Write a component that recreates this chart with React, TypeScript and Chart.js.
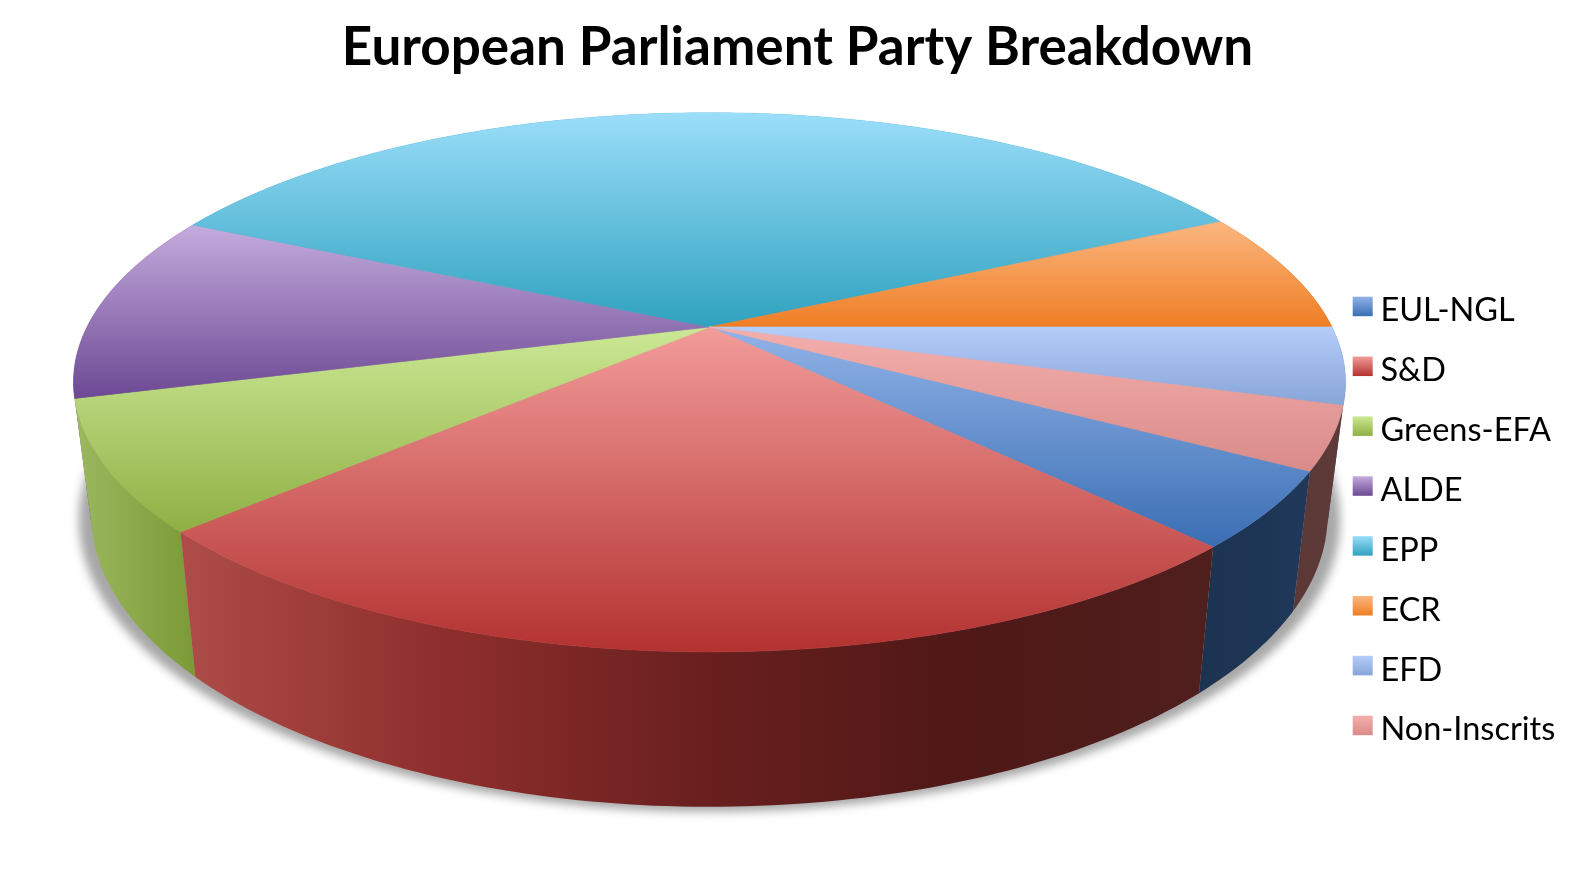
import React, { useEffect, useRef } from "react";
import { Chart, registerables } from "chart.js";

Chart.register(...registerables);

const categories = ["EUL-NGL", "S&D", "Greens-EFA", "ALDE", "EPP", "ECR", "EFD", "Non-Inscrits"];
const seats = [33.5, 185, 57, 83, 262, 54, 34, 27.5];
const topLight = ["#92b3e8", "#f29c9a", "#cce895", "#c4abdd", "#9bdefa", "#fbb67f", "#b4cdf9", "#f3afac"];
const topDark = ["#3a6eb3", "#b33230", "#8fb044", "#6c4993", "#2fa2bf", "#ef7e25", "#88a5d8", "#d98b89"];
const wallStops: string[][] = [
  ["#1c3350", "#20385a"],
  ["#ad4c48", "#8f2f2d", "#6a201f", "#4f1816", "#4f1f1e"],
  ["#9cb860", "#7b9a36"],
  ["#6a4f86", "#5e4578"],
  ["#2a7d92", "#2a7d92"],
  ["#b9631f", "#b9631f"],
  ["#4f6b93", "#4f6b93"],
  ["#5b3836", "#5e3b38"],
];

// perspective of the pie's disc
const CX = 709.5, CY = 327, A = 622.5, B = 258.3, K = 0.205;
const project = (t: number, r = 1) => {
  const u = r * Math.cos(t), v = r * Math.sin(t), w = 1 - K * v;
  return { x: CX + (A * u) / w, y: CY + (B * v) / w };
};
const lower = (p: { x: number; y: number }) => ({
  x: CX + 0.972 * (p.x - CX),
  y: 1.083 * p.y + 100.8,
});
const sweep = (a: number, b: number) => {
  const n = Math.max(2, Math.ceil(((b - a) * 180) / Math.PI));
  const out: number[] = [];
  for (let i = 0; i <= n; i++) out.push(a + ((b - a) * i) / n);
  return out;
};

const perspectivePie = {
  id: "perspectivePie",
  beforeDatasetDraw(chart: any, args: any) {
    const ctx: CanvasRenderingContext2D = chart.ctx;
    const arcs = args.meta.data.map((el: any, i: number) => {
      const { startAngle, endAngle } = el.getProps(["startAngle", "endAngle"], true);
      return { i, a: startAngle, b: endAngle };
    });

    // soft shadow under the disc
    ctx.save();
    ctx.filter = "blur(5px)";
    ctx.fillStyle = "rgba(120,120,120,0.65)";
    ctx.beginPath();
    sweep(0, Math.PI * 2).forEach((t, j) => {
      const p = lower(project(t));
      const x = CX + 1.02 * (p.x - CX), y = p.y + 5;
      j ? ctx.lineTo(x, y) : ctx.moveTo(x, y);
    });
    ctx.closePath();
    ctx.fill();
    ctx.restore();

    // side walls, back to front
    const order = [...arcs].sort(
      (p: any, q: any) => Math.sin((p.a + p.b) / 2) - Math.sin((q.a + q.b) / 2)
    );
    order.forEach(({ i, a, b }: any) => {
      const ts = sweep(a, b);
      const top = ts.map((t) => project(t));
      const bot = ts.map((t) => lower(project(t))).reverse();
      const pts = [...top, ...bot];
      const xs = pts.map((p) => p.x);
      const g = ctx.createLinearGradient(Math.min(...xs), 0, Math.max(...xs), 0);
      wallStops[i].forEach((c, j) => g.addColorStop(j / (wallStops[i].length - 1), c));
      ctx.beginPath();
      pts.forEach((p, j) => (j ? ctx.lineTo(p.x, p.y) : ctx.moveTo(p.x, p.y)));
      ctx.closePath();
      ctx.fillStyle = g;
      ctx.fill();
    });

    // top surface
    arcs.forEach(({ i, a, b }: any) => {
      const pts = [project(0, 0), ...sweep(a, b).map((t) => project(t))];
      const ys = pts.map((p) => p.y);
      const g = ctx.createLinearGradient(0, Math.min(...ys), 0, Math.max(...ys));
      g.addColorStop(0, topLight[i]);
      g.addColorStop(1, topDark[i]);
      ctx.beginPath();
      pts.forEach((p, j) => (j ? ctx.lineTo(p.x, p.y) : ctx.moveTo(p.x, p.y)));
      ctx.closePath();
      ctx.fillStyle = g;
      ctx.strokeStyle = g;
      ctx.lineWidth = 0.6;
      ctx.fill();
      ctx.stroke();
    });
    return false;
  },
  afterLayout(chart: any) {
    chart.titleBlock.left += 8.5;
    chart.titleBlock.right += 8.5;
    chart.legend.left = 1316.75;
    chart.legend.top = 267;
  },
  afterDraw(chart: any) {
    // gradient swatches beside the library's legend text
    const ctx: CanvasRenderingContext2D = chart.ctx;
    categories.forEach((_, i) => {
      const x = 1352.7, w = 20, h = 19.5;
      const y = 296.7 + i * 59.86;
      const g = ctx.createLinearGradient(0, y, 0, y + h);
      g.addColorStop(0, topLight[i]);
      g.addColorStop(1, topDark[i]);
      ctx.fillStyle = g;
      ctx.fillRect(x, y, w, h);
    });
  },
};

export default function App() {
  const ref = useRef<HTMLCanvasElement>(null);
  useEffect(() => {
    const chart = new Chart(ref.current!, {
      type: "pie",
      data: {
        labels: categories,
        datasets: [{ data: seats, backgroundColor: topDark, borderWidth: 0 }],
      },
      plugins: [perspectivePie],
      options: {
        animation: false,
        responsive: false,
        rotation: 120.08,
        layout: { padding: 0 },
        plugins: {
          title: {
            display: true,
            text: "European Parliament Party Breakdown",
            color: "#000000",
            font: { family: "Lato", weight: "bold", size: 53 },
            padding: { top: 16, bottom: 10 },
          },
          legend: {
            position: "right",
            align: "start",
            labels: {
              color: "#000000",
              font: { family: "Lato", size: 32.5 },
              boxWidth: 20,
              boxHeight: 20,
              padding: 27.4,
              generateLabels: (chart: any) =>
                categories.map((text, index) => ({
                  text,
                  index,
                  fillStyle: "rgba(0,0,0,0)",
                  strokeStyle: "rgba(0,0,0,0)",
                  lineWidth: 0,
                  fontColor: "#000000",
                })),
            },
          },
          tooltip: { enabled: false },
        },
      },
    });
    return () => chart.destroy();
  }, []);
  return (
    <canvas
      ref={ref}
      width={1578}
      height={874}
      style={{ position: "absolute", left: 0, top: 0, width: 1578, height: 874, background: "#fff" }}
    />
  );
}
